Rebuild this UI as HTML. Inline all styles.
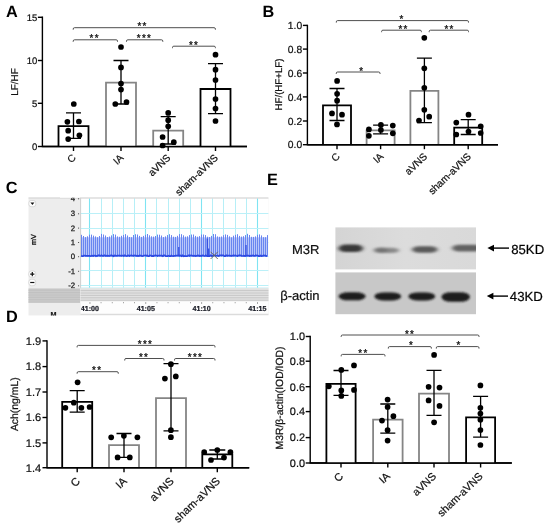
<!DOCTYPE html>
<html lang="en"><head><meta charset="utf-8"><title>Figure</title>
<style>html,body{margin:0;padding:0;background:#fff;}body{width:550px;height:527px;overflow:hidden;}svg{display:block;}</style>
</head><body>
<svg width="550" height="527" viewBox="0 0 550 527" font-family='"Liberation Sans", Arial, sans-serif' fill="#111">
<style>text{stroke:#111;stroke-width:0.22px;text-rendering:geometricPrecision}</style>
<rect width="550" height="527" fill="#fff"/>
<text x="6.1" y="17.1" font-size="16.3" font-weight="bold" fill="#000" style="stroke:none">A</text>
<text x="262.4" y="17.1" font-size="16.3" font-weight="bold" fill="#000" style="stroke:none">B</text>
<text x="5.8" y="192.9" font-size="16.3" font-weight="bold" fill="#000" style="stroke:none">C</text>
<text x="5.9" y="321.8" font-size="16.3" font-weight="bold" fill="#000" style="stroke:none">D</text>
<text x="267" y="184.6" font-size="16.3" font-weight="bold" fill="#000" style="stroke:none">E</text>
<g stroke="#000" stroke-width="1.4" fill="none" stroke-linecap="butt">
<path d="M42.4 16.6V146.5H247"/>
<path d="M37.9 146.5H42.4"/>
<path d="M37.9 103.3H42.4"/>
<path d="M37.9 60.5H42.4"/>
<path d="M37.9 17.3H42.4"/>
<path d="M73.5 146.5V151.0"/>
<path d="M121 146.5V151.0"/>
<path d="M168.2 146.5V151.0"/>
<path d="M215.5 146.5V151.0"/>
</g>
<text x="37.4" y="149.8" font-size="9.5" text-anchor="end">0</text>
<text x="37.4" y="106.6" font-size="9.5" text-anchor="end">5</text>
<text x="37.4" y="63.8" font-size="9.5" text-anchor="end">10</text>
<text x="37.4" y="20.6" font-size="9.5" text-anchor="end">15</text>
<path d="M58.5 146.5V126.2H88.5V146.5" fill="#fff" stroke="#000" stroke-width="1.8"/>
<path d="M106.0 146.5V82.7H136.0V146.5" fill="#fff" stroke="#858585" stroke-width="1.8"/>
<path d="M153.2 146.5V130.7H183.2V146.5" fill="#fff" stroke="#858585" stroke-width="1.8"/>
<path d="M200.5 146.5V89.0H230.5V146.5" fill="#fff" stroke="#000" stroke-width="1.8"/>
<path d="M42.4 146.5H247" stroke="#000" stroke-width="1.4"/>
<path d="M73.5 112.9V138.3M66.0 112.9H81.0M66.0 138.3H81.0" stroke="#000" stroke-width="1.3" fill="none"/>
<circle cx="73.8" cy="104.0" r="2.85" fill="#000"/>
<circle cx="67.4" cy="121.8" r="2.85" fill="#000"/>
<circle cx="78.9" cy="121.5" r="2.85" fill="#000"/>
<circle cx="68.2" cy="130.7" r="2.85" fill="#000"/>
<circle cx="79.4" cy="135.3" r="2.85" fill="#000"/>
<circle cx="68.2" cy="139.1" r="2.85" fill="#000"/>
<text transform="translate(76.5 158.5) rotate(-44)" font-size="10.1" text-anchor="end">C</text>
<path d="M121 60.5V104.0M113.5 60.5H128.5M113.5 104.0H128.5" stroke="#000" stroke-width="1.3" fill="none"/>
<circle cx="121.0" cy="47.0" r="2.85" fill="#000"/>
<circle cx="121.0" cy="67.4" r="2.85" fill="#000"/>
<circle cx="121.0" cy="83.5" r="2.85" fill="#000"/>
<circle cx="121.0" cy="89.6" r="2.85" fill="#000"/>
<circle cx="115.3" cy="104.0" r="2.85" fill="#000"/>
<circle cx="126.5" cy="102.0" r="2.85" fill="#000"/>
<text transform="translate(124.0 158.5) rotate(-44)" font-size="10.1" text-anchor="end">IA</text>
<path d="M168.2 116.7V144.0M160.7 116.7H175.7M160.7 144.0H175.7" stroke="#000" stroke-width="1.3" fill="none"/>
<circle cx="168.2" cy="112.9" r="2.85" fill="#000"/>
<circle cx="168.2" cy="126.3" r="2.85" fill="#000"/>
<circle cx="162.6" cy="137.0" r="2.85" fill="#000"/>
<circle cx="173.8" cy="142.2" r="2.85" fill="#000"/>
<circle cx="162.6" cy="145.5" r="2.85" fill="#000"/>
<circle cx="168.2" cy="120.2" r="2.85" fill="#000"/>
<text transform="translate(171.2 158.5) rotate(-44)" font-size="10.1" text-anchor="end">aVNS</text>
<path d="M215.5 63.6V113.7M208.0 63.6H223.0M208.0 113.7H223.0" stroke="#000" stroke-width="1.3" fill="none"/>
<circle cx="215.5" cy="54.7" r="2.85" fill="#000"/>
<circle cx="215.5" cy="69.7" r="2.85" fill="#000"/>
<circle cx="215.5" cy="80.0" r="2.85" fill="#000"/>
<circle cx="215.5" cy="99.0" r="2.85" fill="#000"/>
<circle cx="215.5" cy="108.5" r="2.85" fill="#000"/>
<circle cx="215.5" cy="121.0" r="2.85" fill="#000"/>
<text transform="translate(218.5 158.5) rotate(-44)" font-size="10.1" text-anchor="end">sham-aVNS</text>
<text transform="translate(17.8 82) rotate(-90)" font-size="9.9" text-anchor="middle">LF/HF</text>
<path d="M73.2 29.7v-0.7q0-1.3 1.3-1.3H214.1q1.3 0 1.3 1.3v0.7" fill="none" stroke="#3a3a3a" stroke-width="0.9"/>
<text x="142.5" y="29.2" font-size="9.8" text-anchor="middle" fill="#111" style="stroke-width:0.3px" letter-spacing="1.3">**</text>
<path d="M73.2 41.8v-0.7q0-1.3 1.3-1.3H116.2q1.3 0 1.3 1.3v0.7" fill="none" stroke="#3a3a3a" stroke-width="0.9"/>
<text x="94.7" y="41.3" font-size="9.8" text-anchor="middle" fill="#111" style="stroke-width:0.3px" letter-spacing="1.3">**</text>
<path d="M126.5 41.8v-0.7q0-1.3 1.3-1.3H161.5q1.3 0 1.3 1.3v0.7" fill="none" stroke="#3a3a3a" stroke-width="0.9"/>
<text x="144.5" y="41.3" font-size="9.8" text-anchor="middle" fill="#111" style="stroke-width:0.3px" letter-spacing="1.3">***</text>
<path d="M172.5 48.2v-0.7q0-1.3 1.3-1.3H214.1q1.3 0 1.3 1.3v0.7" fill="none" stroke="#3a3a3a" stroke-width="0.9"/>
<text x="194.1" y="47.7" font-size="9.8" text-anchor="middle" fill="#111" style="stroke-width:0.3px" letter-spacing="1.3">**</text>
<g stroke="#000" stroke-width="1.4" fill="none" stroke-linecap="butt">
<path d="M307.4 24.7V144.7H498"/>
<path d="M302.9 144.7H307.4"/>
<path d="M302.9 121H307.4"/>
<path d="M302.9 96.9H307.4"/>
<path d="M302.9 73H307.4"/>
<path d="M302.9 49.1H307.4"/>
<path d="M302.9 25.4H307.4"/>
<path d="M337 144.7V149.2"/>
<path d="M380.6 144.7V149.2"/>
<path d="M424.4 144.7V149.2"/>
<path d="M468.2 144.7V149.2"/>
</g>
<text x="302.2" y="148.3" font-size="10.3" text-anchor="end">0.0</text>
<text x="302.2" y="124.6" font-size="10.3" text-anchor="end">0.2</text>
<text x="302.2" y="100.5" font-size="10.3" text-anchor="end">0.4</text>
<text x="302.2" y="76.6" font-size="10.3" text-anchor="end">0.6</text>
<text x="302.2" y="52.7" font-size="10.3" text-anchor="end">0.8</text>
<text x="302.2" y="29.0" font-size="10.3" text-anchor="end">1.0</text>
<path d="M323.0 144.7V105.3H351.0V144.7" fill="#fff" stroke="#000" stroke-width="1.8"/>
<path d="M366.6 144.7V130.3H394.6V144.7" fill="#fff" stroke="#858585" stroke-width="1.8"/>
<path d="M410.4 144.7V90.8H438.4V144.7" fill="#fff" stroke="#858585" stroke-width="1.8"/>
<path d="M454.2 144.7V127.6H482.2V144.7" fill="#fff" stroke="#000" stroke-width="1.8"/>
<path d="M307.4 144.7H498" stroke="#000" stroke-width="1.4"/>
<path d="M337 88.5V120.5M329.5 88.5H344.5M329.5 120.5H344.5" stroke="#000" stroke-width="1.3" fill="none"/>
<circle cx="337.1" cy="80.9" r="2.85" fill="#000"/>
<circle cx="337.1" cy="93.8" r="2.85" fill="#000"/>
<circle cx="337.1" cy="100.7" r="2.85" fill="#000"/>
<circle cx="332.0" cy="113.4" r="2.85" fill="#000"/>
<circle cx="342.0" cy="114.7" r="2.85" fill="#000"/>
<circle cx="337.0" cy="124.4" r="2.85" fill="#000"/>
<text transform="translate(340.5 157.2) rotate(-44)" font-size="10.15" text-anchor="end">C</text>
<path d="M380.6 125.1V133.8M373.1 125.1H388.1M373.1 133.8H388.1" stroke="#000" stroke-width="1.3" fill="none"/>
<circle cx="368.9" cy="129.4" r="2.85" fill="#000"/>
<circle cx="380.9" cy="124.9" r="2.85" fill="#000"/>
<circle cx="392.8" cy="125.6" r="2.85" fill="#000"/>
<circle cx="380.9" cy="130.0" r="2.85" fill="#000"/>
<circle cx="368.9" cy="135.8" r="2.85" fill="#000"/>
<circle cx="392.8" cy="133.3" r="2.85" fill="#000"/>
<text transform="translate(384.1 157.2) rotate(-44)" font-size="10.15" text-anchor="end">IA</text>
<path d="M424.4 58.1V122.6M416.9 58.1H431.9M416.9 122.6H431.9" stroke="#000" stroke-width="1.3" fill="none"/>
<circle cx="424.3" cy="37.8" r="2.85" fill="#000"/>
<circle cx="424.3" cy="68.3" r="2.85" fill="#000"/>
<circle cx="424.3" cy="87.8" r="2.85" fill="#000"/>
<circle cx="424.3" cy="109.8" r="2.85" fill="#000"/>
<circle cx="429.2" cy="116.7" r="2.85" fill="#000"/>
<circle cx="419.0" cy="120.5" r="2.85" fill="#000"/>
<text transform="translate(427.9 157.2) rotate(-44)" font-size="10.15" text-anchor="end">aVNS</text>
<path d="M468.2 119.7V134.5M460.7 119.7H475.7M460.7 134.5H475.7" stroke="#000" stroke-width="1.3" fill="none"/>
<circle cx="468.5" cy="114.7" r="2.85" fill="#000"/>
<circle cx="456.3" cy="122.6" r="2.85" fill="#000"/>
<circle cx="480.7" cy="126.3" r="2.85" fill="#000"/>
<circle cx="468.5" cy="131.6" r="2.85" fill="#000"/>
<circle cx="456.3" cy="134.5" r="2.85" fill="#000"/>
<circle cx="480.7" cy="133.0" r="2.85" fill="#000"/>
<text transform="translate(471.7 157.2) rotate(-44)" font-size="10.15" text-anchor="end">sham-aVNS</text>
<text transform="translate(281.8 84.5) rotate(-90)" font-size="9.7" text-anchor="middle">HF/(HF+LF)</text>
<path d="M336.3 22.6v-0.7q0-1.3 1.3-1.3H467.2q1.3 0 1.3 1.3v0.7" fill="none" stroke="#3a3a3a" stroke-width="0.9"/>
<text x="402.1" y="22.1" font-size="9.8" text-anchor="middle" fill="#111" style="stroke-width:0.3px" letter-spacing="1.3">*</text>
<path d="M381.6 32.2v-0.7q0-1.3 1.3-1.3H420.1q1.3 0 1.3 1.3v0.7" fill="none" stroke="#3a3a3a" stroke-width="0.9"/>
<text x="403.5" y="31.7" font-size="9.8" text-anchor="middle" fill="#111" style="stroke-width:0.3px" letter-spacing="1.3">**</text>
<path d="M429.2 32.2v-0.7q0-1.3 1.3-1.3H467.2q1.3 0 1.3 1.3v0.7" fill="none" stroke="#3a3a3a" stroke-width="0.9"/>
<text x="449.5" y="31.7" font-size="9.8" text-anchor="middle" fill="#111" style="stroke-width:0.3px" letter-spacing="1.3">**</text>
<path d="M336.3 74.0v-0.7q0-1.3 1.3-1.3H378.7q1.3 0 1.3 1.3v0.7" fill="none" stroke="#3a3a3a" stroke-width="0.9"/>
<text x="361.8" y="73.5" font-size="9.8" text-anchor="middle" fill="#111" style="stroke-width:0.3px" letter-spacing="1.3">*</text>
<g stroke="#000" stroke-width="1.4" fill="none" stroke-linecap="butt">
<path d="M47 340.2V467.7H249.2"/>
<path d="M42.5 467.7H47"/>
<path d="M42.5 442.9H47"/>
<path d="M42.5 417.5H47"/>
<path d="M42.5 392H47"/>
<path d="M42.5 366.6H47"/>
<path d="M42.5 340.9H47"/>
<path d="M77.2 467.7V472.2"/>
<path d="M124 467.7V472.2"/>
<path d="M171 467.7V472.2"/>
<path d="M217.3 467.7V472.2"/>
</g>
<text x="41.2" y="471.5" font-size="11.1" text-anchor="end">1.4</text>
<text x="41.2" y="446.7" font-size="11.1" text-anchor="end">1.5</text>
<text x="41.2" y="421.3" font-size="11.1" text-anchor="end">1.6</text>
<text x="41.2" y="395.8" font-size="11.1" text-anchor="end">1.7</text>
<text x="41.2" y="370.4" font-size="11.1" text-anchor="end">1.8</text>
<text x="41.2" y="344.7" font-size="11.1" text-anchor="end">1.9</text>
<path d="M62.2 467.7V401.9H92.2V467.7" fill="#fff" stroke="#000" stroke-width="1.8"/>
<path d="M109.0 467.7V445.2H139.0V467.7" fill="#fff" stroke="#858585" stroke-width="1.8"/>
<path d="M156.0 467.7V398.2H186.0V467.7" fill="#fff" stroke="#858585" stroke-width="1.8"/>
<path d="M202.3 467.7V454.4H232.3V467.7" fill="#fff" stroke="#000" stroke-width="1.8"/>
<path d="M47 467.7H249.2" stroke="#000" stroke-width="1.4"/>
<path d="M77.2 390.7V412.1M69.7 390.7H84.7M69.7 412.1H84.7" stroke="#000" stroke-width="1.3" fill="none"/>
<circle cx="77.6" cy="382.3" r="2.85" fill="#000"/>
<circle cx="65.4" cy="407.8" r="2.85" fill="#000"/>
<circle cx="73.8" cy="402.7" r="2.85" fill="#000"/>
<circle cx="81.4" cy="407.8" r="2.85" fill="#000"/>
<circle cx="89.6" cy="407.0" r="2.85" fill="#000"/>
<text transform="translate(80.8 482.0) rotate(-44)" font-size="11.0" text-anchor="end">C</text>
<path d="M124 433.5V457.4M116.5 433.5H131.5M116.5 457.4H131.5" stroke="#000" stroke-width="1.3" fill="none"/>
<circle cx="111.2" cy="437.3" r="2.85" fill="#000"/>
<circle cx="123.9" cy="435.8" r="2.85" fill="#000"/>
<circle cx="137.4" cy="437.3" r="2.85" fill="#000"/>
<circle cx="117.6" cy="457.4" r="2.85" fill="#000"/>
<circle cx="129.8" cy="457.4" r="2.85" fill="#000"/>
<text transform="translate(127.6 482.0) rotate(-44)" font-size="11.0" text-anchor="end">IA</text>
<path d="M171 363.6V430.9M163.5 363.6H178.5M163.5 430.9H178.5" stroke="#000" stroke-width="1.3" fill="none"/>
<circle cx="170.9" cy="364.2" r="2.85" fill="#000"/>
<circle cx="164.9" cy="378.6" r="2.85" fill="#000"/>
<circle cx="175.8" cy="376.4" r="2.85" fill="#000"/>
<circle cx="170.9" cy="430.2" r="2.85" fill="#000"/>
<circle cx="170.9" cy="437.2" r="2.85" fill="#000"/>
<text transform="translate(174.6 482.0) rotate(-44)" font-size="11.0" text-anchor="end">aVNS</text>
<path d="M217.3 450.0V459.0M209.3 450.0H225.3M209.3 459.0H225.3" stroke="#000" stroke-width="1.3" fill="none"/>
<circle cx="204.2" cy="452.2" r="2.85" fill="#000"/>
<circle cx="217.3" cy="450.0" r="2.85" fill="#000"/>
<circle cx="230.4" cy="452.2" r="2.85" fill="#000"/>
<circle cx="211.0" cy="460.0" r="2.85" fill="#000"/>
<circle cx="224.0" cy="457.6" r="2.85" fill="#000"/>
<text transform="translate(220.9 482.0) rotate(-44)" font-size="11.0" text-anchor="end">sham-aVNS</text>
<text transform="translate(18 404.2) rotate(-90)" font-size="10.4" text-anchor="middle">Ach(ng/mL)</text>
<path d="M77.1 347.4v-0.7q0-1.3 1.3-1.3H213.7q1.3 0 1.3 1.3v0.7" fill="none" stroke="#3a3a3a" stroke-width="0.9"/>
<text x="145.5" y="346.9" font-size="9.8" text-anchor="middle" fill="#111" style="stroke-width:0.3px" letter-spacing="1.3">***</text>
<path d="M77.1 373.7v-0.7q0-1.3 1.3-1.3H117.0q1.3 0 1.3 1.3v0.7" fill="none" stroke="#3a3a3a" stroke-width="0.9"/>
<text x="97.2" y="373.2" font-size="9.8" text-anchor="middle" fill="#111" style="stroke-width:0.3px" letter-spacing="1.3">**</text>
<path d="M124.7 360.5v-0.7q0-1.3 1.3-1.3H162.7q1.3 0 1.3 1.3v0.7" fill="none" stroke="#3a3a3a" stroke-width="0.9"/>
<text x="144.1" y="360.0" font-size="9.8" text-anchor="middle" fill="#111" style="stroke-width:0.3px" letter-spacing="1.3">**</text>
<path d="M174.5 360.5v-0.7q0-1.3 1.3-1.3H213.7q1.3 0 1.3 1.3v0.7" fill="none" stroke="#3a3a3a" stroke-width="0.9"/>
<text x="195.5" y="360.0" font-size="9.8" text-anchor="middle" fill="#111" style="stroke-width:0.3px" letter-spacing="1.3">***</text>
<g stroke="#000" stroke-width="1.4" fill="none" stroke-linecap="butt">
<path d="M310.2 335.8V463H511.8"/>
<path d="M305.7 463H310.2"/>
<path d="M305.7 437.6H310.2"/>
<path d="M305.7 411.6H310.2"/>
<path d="M305.7 386.7H310.2"/>
<path d="M305.7 361.2H310.2"/>
<path d="M305.7 336.5H310.2"/>
<path d="M341 463V467.5"/>
<path d="M387.8 463V467.5"/>
<path d="M434 463V467.5"/>
<path d="M480.6 463V467.5"/>
</g>
<text x="305.0" y="466.8" font-size="10.9" text-anchor="end">0.0</text>
<text x="305.0" y="441.4" font-size="10.9" text-anchor="end">0.2</text>
<text x="305.0" y="415.4" font-size="10.9" text-anchor="end">0.4</text>
<text x="305.0" y="390.5" font-size="10.9" text-anchor="end">0.6</text>
<text x="305.0" y="365.0" font-size="10.9" text-anchor="end">0.8</text>
<text x="305.0" y="340.3" font-size="10.9" text-anchor="end">1.0</text>
<path d="M326.4 463V383.8H355.6V463" fill="#fff" stroke="#000" stroke-width="1.8"/>
<path d="M373.1 463V419.6H402.6V463" fill="#fff" stroke="#858585" stroke-width="1.8"/>
<path d="M419.0 463V393.6H449.0V463" fill="#fff" stroke="#858585" stroke-width="1.8"/>
<path d="M466.1 463V417.4H495.1V463" fill="#fff" stroke="#000" stroke-width="1.8"/>
<path d="M310.2 463H511.8" stroke="#000" stroke-width="1.4"/>
<path d="M341 370.5V395.4M333.5 370.5H348.5M333.5 395.4H348.5" stroke="#000" stroke-width="1.3" fill="none"/>
<circle cx="354.0" cy="365.4" r="2.85" fill="#000"/>
<circle cx="341.3" cy="369.9" r="2.85" fill="#000"/>
<circle cx="328.8" cy="386.3" r="2.85" fill="#000"/>
<circle cx="354.0" cy="389.9" r="2.85" fill="#000"/>
<circle cx="341.3" cy="390.4" r="2.85" fill="#000"/>
<circle cx="341.3" cy="395.9" r="2.85" fill="#000"/>
<text transform="translate(343.8 477.0) rotate(-44)" font-size="10.75" text-anchor="end">C</text>
<path d="M387.8 404.0V433.2M380.3 404.0H395.3M380.3 433.2H395.3" stroke="#000" stroke-width="1.3" fill="none"/>
<circle cx="387.6" cy="399.6" r="2.85" fill="#000"/>
<circle cx="387.6" cy="407.0" r="2.85" fill="#000"/>
<circle cx="393.4" cy="416.2" r="2.85" fill="#000"/>
<circle cx="382.0" cy="420.6" r="2.85" fill="#000"/>
<circle cx="387.6" cy="430.2" r="2.85" fill="#000"/>
<circle cx="387.6" cy="440.6" r="2.85" fill="#000"/>
<text transform="translate(390.6 477.0) rotate(-44)" font-size="10.75" text-anchor="end">IA</text>
<path d="M434 370.4V415.4M426.5 370.4H441.5M426.5 415.4H441.5" stroke="#000" stroke-width="1.3" fill="none"/>
<circle cx="434.1" cy="354.9" r="2.85" fill="#000"/>
<circle cx="428.6" cy="386.8" r="2.85" fill="#000"/>
<circle cx="439.5" cy="387.6" r="2.85" fill="#000"/>
<circle cx="428.6" cy="400.4" r="2.85" fill="#000"/>
<circle cx="439.5" cy="405.9" r="2.85" fill="#000"/>
<circle cx="434.1" cy="422.3" r="2.85" fill="#000"/>
<text transform="translate(436.8 477.0) rotate(-44)" font-size="10.75" text-anchor="end">aVNS</text>
<path d="M480.6 396.4V437.2M473.1 396.4H488.1M473.1 437.2H488.1" stroke="#000" stroke-width="1.3" fill="none"/>
<circle cx="480.4" cy="385.4" r="2.85" fill="#000"/>
<circle cx="480.4" cy="407.8" r="2.85" fill="#000"/>
<circle cx="480.4" cy="413.5" r="2.85" fill="#000"/>
<circle cx="480.4" cy="419.7" r="2.85" fill="#000"/>
<circle cx="480.4" cy="430.0" r="2.85" fill="#000"/>
<circle cx="480.4" cy="445.0" r="2.85" fill="#000"/>
<text transform="translate(483.4 477.0) rotate(-44)" font-size="10.75" text-anchor="end">sham-aVNS</text>
<text transform="translate(283 398) rotate(-90)" font-size="10.4" text-anchor="middle">M3R/β-actin(IOD/IOD)</text>
<path d="M341.2 337.0v-0.7q0-1.3 1.3-1.3H477.7q1.3 0 1.3 1.3v0.7" fill="none" stroke="#3a3a3a" stroke-width="0.9"/>
<text x="410.0" y="336.5" font-size="9.8" text-anchor="middle" fill="#111" style="stroke-width:0.3px" letter-spacing="1.3">**</text>
<path d="M341.2 356.4v-0.7q0-1.3 1.3-1.3H383.7q1.3 0 1.3 1.3v0.7" fill="none" stroke="#3a3a3a" stroke-width="0.9"/>
<text x="363.4" y="355.9" font-size="9.8" text-anchor="middle" fill="#111" style="stroke-width:0.3px" letter-spacing="1.3">**</text>
<path d="M388.3 348.6v-0.7q0-1.3 1.3-1.3H430.1q1.3 0 1.3 1.3v0.7" fill="none" stroke="#3a3a3a" stroke-width="0.9"/>
<text x="411.5" y="348.1" font-size="9.8" text-anchor="middle" fill="#111" style="stroke-width:0.3px" letter-spacing="1.3">*</text>
<path d="M436.3 348.6v-0.7q0-1.3 1.3-1.3H477.7q1.3 0 1.3 1.3v0.7" fill="none" stroke="#3a3a3a" stroke-width="0.9"/>
<text x="459.1" y="348.1" font-size="9.8" text-anchor="middle" fill="#111" style="stroke-width:0.3px" letter-spacing="1.3">*</text>
<g>
<rect x="28.5" y="197.6" width="240" height="118" fill="#ededed"/>
<rect x="80.6" y="198.4" width="187.9" height="89.6" fill="#fff"/>
<path d="M89.5 198.4V288" stroke="#7fe4f2" stroke-width="1.1"/>
<path d="M101.5 198.4V288" stroke="#b6eff7" stroke-width="1.0"/>
<path d="M112.5 198.4V288" stroke="#b6eff7" stroke-width="1.0"/>
<path d="M123.5 198.4V288" stroke="#b6eff7" stroke-width="1.0"/>
<path d="M134.5 198.4V288" stroke="#b6eff7" stroke-width="1.0"/>
<path d="M145.5 198.4V288" stroke="#7fe4f2" stroke-width="1.1"/>
<path d="M156.5 198.4V288" stroke="#b6eff7" stroke-width="1.0"/>
<path d="M168.5 198.4V288" stroke="#b6eff7" stroke-width="1.0"/>
<path d="M179.5 198.4V288" stroke="#b6eff7" stroke-width="1.0"/>
<path d="M190.5 198.4V288" stroke="#b6eff7" stroke-width="1.0"/>
<path d="M201.5 198.4V288" stroke="#7fe4f2" stroke-width="1.1"/>
<path d="M212.5 198.4V288" stroke="#b6eff7" stroke-width="1.0"/>
<path d="M223.5 198.4V288" stroke="#b6eff7" stroke-width="1.0"/>
<path d="M235.5 198.4V288" stroke="#b6eff7" stroke-width="1.0"/>
<path d="M246.5 198.4V288" stroke="#b6eff7" stroke-width="1.0"/>
<path d="M257.5 198.4V288" stroke="#7fe4f2" stroke-width="1.1"/>
<path d="M80.6 213.5H268.4" stroke="#bbf0f8" stroke-width="1"/>
<path d="M80.6 228.5H268.4" stroke="#bbf0f8" stroke-width="1"/>
<path d="M80.6 242.5H268.4" stroke="#bbf0f8" stroke-width="1"/>
<path d="M80.6 256.5H268.4" stroke="#bbf0f8" stroke-width="1"/>
<path d="M80.6 270.5H268.4" stroke="#bbf0f8" stroke-width="1"/>
<path d="M80.6 285.5H268.4" stroke="#bbf0f8" stroke-width="1"/>
<path d="M80.6 198V288.3" stroke="#c9c9c9" stroke-width="0.9"/>
<path d="M28.5 198H268.4" stroke="#d2d2d2" stroke-width="1"/>
<path d="M80.6 287.8H268.4" stroke="#c8eef4" stroke-width="0.8"/>
<rect x="81.1" y="237.3" width="186.4" height="19" fill="#b9c7f9"/>
<path d="M81.50 256.5V234.8M83.50 256.5V236.0M85.50 256.5V237.1M87.50 256.5V236.3M89.50 256.5V234.7M91.50 256.5V234.6M93.50 256.5V235.6M95.50 256.5V236.4M97.50 256.5V237.2M99.50 256.5V236.0M101.50 256.5V233.9M103.50 256.5V234.5M105.50 256.5V235.5M107.50 256.5V237.0M109.50 256.5V236.5M111.50 256.5V235.4M113.50 256.5V234.1M115.50 256.5V234.6M117.50 256.5V236.4M119.50 256.5V236.8M121.50 256.5V235.8M123.50 256.5V234.9M125.50 256.5V234.1M127.50 256.5V235.5M129.50 256.5V237.0M131.50 256.5V237.2M133.50 256.5V235.0M135.50 256.5V234.2M137.50 256.5V234.5M139.50 256.5V235.9M141.50 256.5V236.9M143.50 256.5V235.9M145.50 256.5V234.8M147.50 256.5V234.0M149.50 256.5V235.3M151.50 256.5V236.3M153.50 256.5V236.6M155.50 256.5V236.0M157.50 256.5V234.6M159.50 256.5V234.7M161.50 256.5V235.5M163.50 256.5V237.1M165.50 256.5V236.4M167.50 256.5V235.1M169.50 256.5V234.2M171.50 256.5V235.1M173.50 256.5V236.7M175.50 256.5V236.9M177.50 256.5V235.8M179.50 256.5V234.1M181.50 256.5V234.2M183.50 256.5V235.3M185.50 256.5V236.6M187.50 256.5V236.3M189.50 256.5V235.1M191.50 256.5V234.5M193.50 256.5V234.5M195.50 256.5V235.9M197.50 256.5V236.7M199.50 256.5V236.1M201.50 256.5V234.5M203.50 256.5V234.5M205.50 256.5V235.1M207.50 256.5V236.7M209.50 256.5V237.0M211.50 256.5V235.9M213.50 256.5V234.0M215.50 256.5V234.2M217.50 256.5V236.4M219.50 256.5V236.8M221.50 256.5V236.5M223.50 256.5V235.2M225.50 256.5V234.4M227.50 256.5V234.9M229.50 256.5V236.3M231.50 256.5V237.3M233.50 256.5V235.7M235.50 256.5V234.8M237.50 256.5V234.2M239.50 256.5V235.9M241.50 256.5V236.6M243.50 256.5V236.2M245.50 256.5V235.1M247.50 256.5V233.8M249.50 256.5V235.0M251.50 256.5V236.8M253.50 256.5V236.9M255.50 256.5V236.4M257.50 256.5V234.8M259.50 256.5V234.4M261.50 256.5V235.4M263.50 256.5V237.2M265.50 256.5V237.2M267.50 256.5V235.1" stroke="#6885f0" stroke-width="1.0" fill="none"/>
<path d="M178.8 256.5V247" stroke="#3550e0" stroke-width="1.3"/>
<path d="M207.3 256.5V238.5" stroke="#3550e0" stroke-width="1.3"/>
<path d="M208.7 256.5V248.5" stroke="#3550e0" stroke-width="1.3"/>
<path d="M246 256.5V245" stroke="#3550e0" stroke-width="1.3"/>
<path d="M81.1 255.6 L82.0 256.2 L83.0 256.1 L83.9 255.6 L84.8 255.7 L85.8 255.8 L86.7 255.9 L87.6 255.8 L88.5 255.8 L89.5 255.9 L90.4 256.2 L91.3 255.8 L92.3 255.7 L93.2 256.0 L94.1 255.5 L95.1 255.6 L96.0 256.2 L96.9 255.8 L97.8 255.8 L98.8 255.3 L99.7 255.7 L100.6 255.8 L101.6 255.3 L102.5 255.9 L103.4 255.9 L104.4 255.3 L105.3 255.9 L106.2 255.7 L107.1 255.9 L108.1 255.6 L109.0 256.0 L109.9 256.0 L110.9 255.3 L111.8 255.3 L112.7 255.9 L113.7 256.2 L114.6 255.5 L115.5 255.7 L116.4 255.8 L117.4 255.6 L118.3 255.6 L119.2 255.6 L120.2 255.6 L121.1 255.8 L122.0 255.6 L123.0 255.6 L123.9 256.0 L124.8 255.3 L125.7 255.8 L126.7 256.0 L127.6 255.6 L128.5 255.5 L129.5 256.1 L130.4 255.5 L131.3 255.4 L132.3 255.7 L133.2 255.9 L134.1 255.4 L135.0 255.6 L136.0 255.6 L136.9 256.1 L137.8 255.7 L138.8 256.1 L139.7 255.4 L140.6 255.6 L141.6 255.9 L142.5 256.1 L143.4 255.7 L144.3 255.5 L145.3 255.4 L146.2 255.8 L147.1 255.4 L148.1 256.1 L149.0 256.1 L149.9 255.4 L150.9 255.5 L151.8 256.1 L152.7 255.9 L153.6 256.1 L154.6 255.6 L155.5 255.4 L156.4 255.5 L157.4 256.0 L158.3 255.5 L159.2 255.6 L160.2 255.7 L161.1 255.7 L162.0 255.7 L162.9 256.2 L163.9 255.4 L164.8 255.3 L165.7 256.2 L166.7 256.1 L167.6 256.2 L168.5 255.7 L169.5 256.2 L170.4 256.2 L171.3 255.5 L172.2 256.0 L173.2 256.1 L174.1 255.9 L175.0 255.8 L176.0 255.5 L176.9 255.6 L177.8 255.5 L178.8 255.3 L179.7 255.8 L180.6 255.5 L181.5 256.1 L182.5 255.3 L183.4 256.2 L184.3 255.9 L185.3 256.2 L186.2 256.1 L187.1 256.1 L188.1 255.8 L189.0 255.3 L189.9 256.0 L190.8 255.4 L191.8 255.5 L192.7 255.9 L193.6 255.8 L194.6 255.7 L195.5 256.2 L196.4 255.9 L197.4 255.6 L198.3 255.5 L199.2 256.1 L200.1 255.7 L201.1 256.0 L202.0 255.6 L202.9 255.4 L203.9 255.8 L204.8 256.1 L205.7 255.4 L206.7 256.0 L207.6 256.2 L208.5 256.1 L209.4 256.1 L210.4 255.3 L211.3 255.9 L212.2 256.1 L213.2 255.3 L214.1 255.5 L215.0 255.5 L216.0 255.8 L216.9 255.7 L217.8 255.7 L218.7 256.0 L219.7 255.3 L220.6 255.3 L221.5 255.4 L222.5 255.4 L223.4 255.3 L224.3 256.2 L225.3 256.1 L226.2 255.3 L227.1 255.8 L228.0 255.6 L229.0 255.6 L229.9 255.6 L230.8 255.9 L231.8 255.8 L232.7 255.6 L233.6 255.4 L234.6 255.6 L235.5 255.4 L236.4 255.8 L237.3 256.0 L238.3 255.6 L239.2 255.3 L240.1 255.4 L241.1 255.6 L242.0 255.9 L242.9 256.0 L243.9 255.6 L244.8 256.1 L245.7 255.9 L246.6 255.7 L247.6 255.6 L248.5 255.7 L249.4 256.0 L250.4 255.7 L251.3 255.9 L252.2 255.7 L253.2 255.5 L254.1 255.8 L255.0 255.9 L255.9 255.3 L256.9 255.7 L257.8 255.7 L258.7 256.1 L259.7 256.2 L260.6 255.6 L261.5 256.1 L262.5 256.0 L263.4 255.5 L264.3 255.7 L265.2 255.4 L266.2 256.1 L267.1 255.9" stroke="#2d48e2" stroke-width="1.7" fill="none"/>
<path d="M210.6 251.8l7.2 7.2m0-7.2l-7.2 7.2" stroke="#6a6458" stroke-width="0.9"/>
<text x="75.2" y="201.4" font-size="7.8" text-anchor="end" fill="#2a2a2a" style="stroke-width:0.25px">4</text>
<rect x="78" y="198.3" width="1.1" height="1" fill="#555"/>
<text x="75.2" y="216.4" font-size="7.8" text-anchor="end" fill="#2a2a2a" style="stroke-width:0.25px">3</text>
<rect x="78" y="213.3" width="1.1" height="1" fill="#555"/>
<text x="75.2" y="230.7" font-size="7.8" text-anchor="end" fill="#2a2a2a" style="stroke-width:0.25px">2</text>
<rect x="78" y="227.6" width="1.1" height="1" fill="#555"/>
<text x="75.2" y="245.1" font-size="7.8" text-anchor="end" fill="#2a2a2a" style="stroke-width:0.25px">1</text>
<rect x="78" y="242.0" width="1.1" height="1" fill="#555"/>
<text x="75.2" y="259.3" font-size="7.8" text-anchor="end" fill="#2a2a2a" style="stroke-width:0.25px">0</text>
<rect x="78" y="256.2" width="1.1" height="1" fill="#555"/>
<text x="75.2" y="273.9" font-size="7.8" text-anchor="end" fill="#2a2a2a" style="stroke-width:0.25px">-1</text>
<rect x="78" y="270.8" width="1.1" height="1" fill="#555"/>
<text x="75.2" y="288.4" font-size="7.8" text-anchor="end" fill="#2a2a2a" style="stroke-width:0.25px">-2</text>
<rect x="78" y="285.3" width="1.1" height="1" fill="#555"/>
<rect x="60" y="193" width="19.8" height="4.7" fill="#fff"/>
<text transform="translate(36 239.5) rotate(-90)" font-size="7.3" text-anchor="middle" fill="#222" style="stroke-width:0.3px">mV</text>
<rect x="28.9" y="200.5" width="6.8" height="6.2" rx="2.3" fill="#fff" stroke="#c4c4c4" stroke-width="0.6"/><path d="M30.4 202.4h4l-2 2.6z" fill="#111"/>
<rect x="28.8" y="271" width="6.9" height="6.4" rx="2.6" fill="#fff" stroke="#c4c4c4" stroke-width="0.6"/><path d="M30.2 274.2h4.2M32.3 272.1v4.2" stroke="#111" stroke-width="1.2"/>
<rect x="28.8" y="279.3" width="6.9" height="6.4" rx="2.6" fill="#fff" stroke="#c4c4c4" stroke-width="0.6"/><path d="M30.2 282.5h4.2" stroke="#111" stroke-width="1.2"/>
<rect x="28.5" y="288.4" width="51.5" height="14.4" fill="#cacaca"/>
<rect x="80.6" y="288.4" width="187.8" height="13" fill="#e2e2e2"/>
<path d="M28.5 290.2H80" stroke="#c0c0c0" stroke-width="0.9"/>
<path d="M28.5 292.6H80" stroke="#c0c0c0" stroke-width="0.9"/>
<path d="M28.5 295.0H80" stroke="#c0c0c0" stroke-width="0.9"/>
<path d="M28.5 297.4H80" stroke="#c0c0c0" stroke-width="0.9"/>
<path d="M28.5 299.8H80" stroke="#c0c0c0" stroke-width="0.9"/>
<path d="M28.5 302.0H80" stroke="#c0c0c0" stroke-width="0.9"/>
<path d="M80.6 290.6H268.4" stroke="#c4c4c4" stroke-width="0.9"/>
<path d="M80.6 293.0H268.4" stroke="#c4c4c4" stroke-width="0.9"/>
<path d="M80.6 295.4H268.4" stroke="#c4c4c4" stroke-width="0.9"/>
<path d="M80.6 297.8H268.4" stroke="#c4c4c4" stroke-width="0.9"/>
<path d="M80.6 300.2H268.4" stroke="#c4c4c4" stroke-width="0.9"/>
<rect x="80.6" y="301.4" width="187.8" height="12.6" fill="#fdfdfd"/>
<path d="M80.6 314.3H268.4" stroke="#d5d5d5" stroke-width="0.9"/>
<rect x="89.5" y="302.3" width="0.9" height="1.4" fill="#777"/>
<rect x="100.6" y="302.3" width="0.9" height="0.9" fill="#777"/>
<rect x="111.8" y="302.3" width="0.9" height="0.9" fill="#777"/>
<rect x="123.0" y="302.3" width="0.9" height="0.9" fill="#777"/>
<rect x="134.1" y="302.3" width="0.9" height="0.9" fill="#777"/>
<rect x="145.3" y="302.3" width="0.9" height="1.4" fill="#777"/>
<rect x="156.5" y="302.3" width="0.9" height="0.9" fill="#777"/>
<rect x="167.6" y="302.3" width="0.9" height="0.9" fill="#777"/>
<rect x="178.8" y="302.3" width="0.9" height="0.9" fill="#777"/>
<rect x="190.0" y="302.3" width="0.9" height="0.9" fill="#777"/>
<rect x="201.2" y="302.3" width="0.9" height="1.4" fill="#777"/>
<rect x="212.3" y="302.3" width="0.9" height="0.9" fill="#777"/>
<rect x="223.5" y="302.3" width="0.9" height="0.9" fill="#777"/>
<rect x="234.7" y="302.3" width="0.9" height="0.9" fill="#777"/>
<rect x="245.8" y="302.3" width="0.9" height="0.9" fill="#777"/>
<rect x="257.0" y="302.3" width="0.9" height="1.4" fill="#777"/>
<clipPath id="tc"><rect x="81.3" y="300" width="190" height="16"/></clipPath>
<g clip-path="url(#tc)">
<text x="80.8" y="311.1" font-size="7.2" fill="#1c2030" font-weight="bold" textLength="18.2" lengthAdjust="spacingAndGlyphs">41:00</text>
<text x="136.7" y="311.1" font-size="7.2" fill="#1c2030" font-weight="bold" textLength="18.2" lengthAdjust="spacingAndGlyphs">41:05</text>
<text x="192.5" y="311.1" font-size="7.2" fill="#1c2030" font-weight="bold" textLength="18.2" lengthAdjust="spacingAndGlyphs">41:10</text>
<text x="248.3" y="311.1" font-size="7.2" fill="#1c2030" font-weight="bold" textLength="18.2" lengthAdjust="spacingAndGlyphs">41:15</text>
</g>
<clipPath id="mc"><rect x="28" y="300" width="52" height="15.7"/></clipPath>
<text x="53.6" y="317" font-size="7.2" font-weight="bold" text-anchor="middle" fill="#222" clip-path="url(#mc)">M</text>
<rect x="28" y="315.7" width="241" height="4" fill="#fff"/>
</g>
<defs><filter id="bl1" x="-20%" y="-80%" width="140%" height="260%"><feGaussianBlur stdDeviation="1.9 1.3"/></filter><filter id="bl2" x="-20%" y="-60%" width="140%" height="220%"><feGaussianBlur stdDeviation="1.0 0.85"/></filter><linearGradient id="bg1" x1="0" x2="1" y1="0" y2="0"><stop offset="0" stop-color="#d4d4d4"/><stop offset="0.5" stop-color="#dcdcdc"/><stop offset="1" stop-color="#d9d9d9"/></linearGradient><clipPath id="bc1"><rect x="335.4" y="227.4" width="140.6" height="42"/></clipPath></defs>
<rect x="335.4" y="227.4" width="140.6" height="42" fill="url(#bg1)"/>
<rect x="335.4" y="272.4" width="140.6" height="41.8" fill="#c8c8c8"/>
<g clip-path="url(#bc1)"><g filter="url(#bl1)">
<rect x="338.5" y="244.60000000000002" width="24.5" height="7.4" rx="7" ry="3.7" fill="#383838"/>
<rect x="374" y="247.70000000000002" width="25" height="5.4" rx="7" ry="2.7" fill="#8a8a8a"/>
<rect x="374" y="247.5" width="14" height="5.4" rx="7" ry="2.7" fill="#747474"/>
<rect x="412" y="246.3" width="25.5" height="6.4" rx="7" ry="3.2" fill="#5a5a5a"/>
<rect x="452" y="244.7" width="30" height="6.8" rx="7" ry="3.4" fill="#626262"/>
</g></g>
<g filter="url(#bl2)">
<rect x="338.6" y="292.3" width="27.0" height="8.0" rx="10" ry="4.0" fill="#1a1a1a"/>
<rect x="374.4" y="292.4" width="26.80000000000001" height="8.0" rx="10" ry="4.0" fill="#1a1a1a"/>
<rect x="408.4" y="292.4" width="26.80000000000001" height="8.0" rx="10" ry="4.0" fill="#1a1a1a"/>
<rect x="441.4" y="292.2" width="28.600000000000023" height="9.6" rx="10" ry="4.8" fill="#1a1a1a"/>
</g>
<text x="292" y="254.3" font-size="13" fill="#111">M3R</text>
<text x="280.3" y="300.2" font-size="13" fill="#111">β-actin</text>
<path d="M491.4 248.1H509" stroke="#000" stroke-width="1.4"/><path d="M487.4 248.1l6.6 -3.3v6.6z" fill="#000"/>
<path d="M490.8 296.1H508" stroke="#000" stroke-width="1.4"/><path d="M486.8 296.1l6.6 -3.3v6.6z" fill="#000"/>
<text x="511.2" y="254" font-size="13.2" fill="#000">85KD</text>
<text x="509.8" y="300.6" font-size="13.2" fill="#000">43KD</text>
</svg>
</body></html>
